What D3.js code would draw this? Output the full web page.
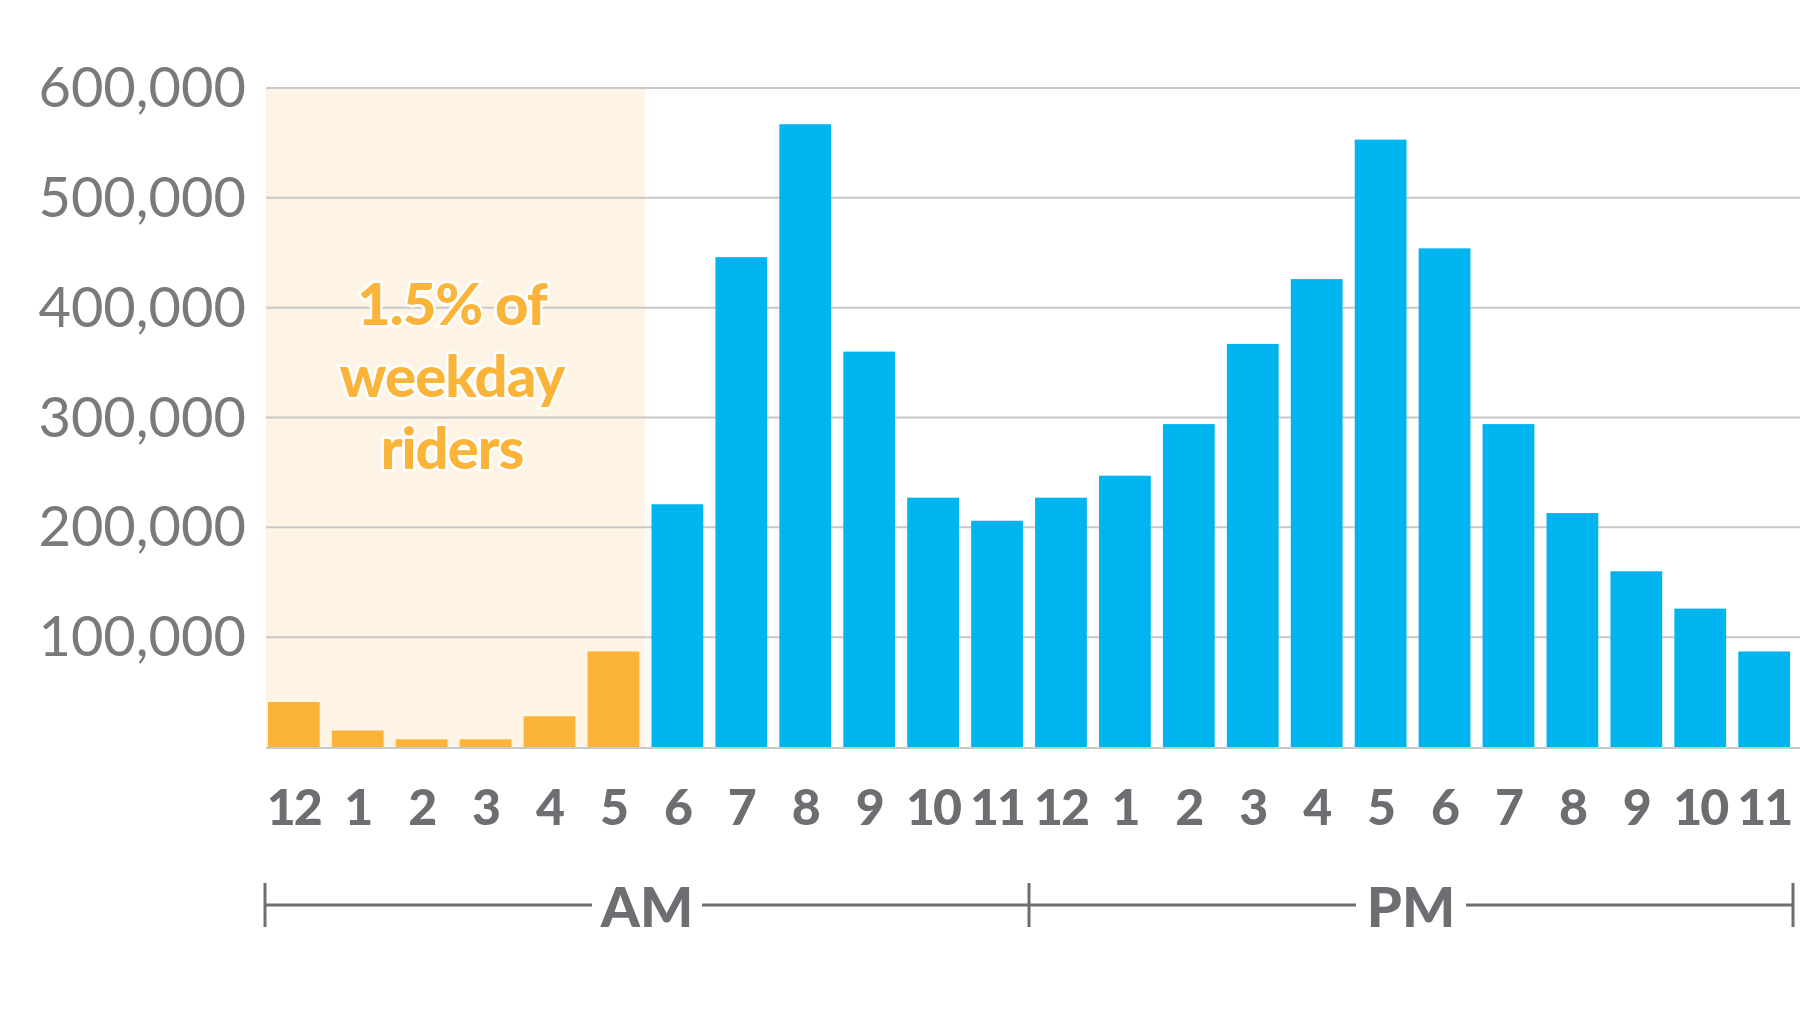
<!DOCTYPE html>
<html><head><meta charset="utf-8">
<script src="https://cdn.jsdelivr.net/npm/d3@7"></script>
<style>body{margin:0;background:#fff}</style>
</head><body><div id="chart"></div>
<script>
// hourly weekday riders
var hours = ["12","1","2","3","4","5","6","7","8","9","10","11","12","1","2","3","4","5","6","7","8","9","10","11"]
var riders = [41000,15000,7000,7000,28000,87000,221000,446000,567000,360000,227000,206000,227000,247000,294000,367000,426000,553000,454000,294000,213000,160000,126000,87000]
var yTicks = [100000,200000,300000,400000,500000,600000]
var nightCount = 6

var W = 1800, H = 1017
var svg = d3.select("#chart").append("svg").attr("width", W).attr("height", H)

var x = d3.scaleBand().domain(d3.range(hours.length)).range([266, 1792]).paddingInner(0.19).paddingOuter(0.03)
var y = d3.scaleLinear().domain([0, 600000]).range([747, 88])

// night shading
svg.append("rect").attr("x", 266).attr("y", y(600000))
  .attr("width", x(nightCount) - 266 - x.step()*x.paddingInner()/2).attr("height", y(0) - y(600000))
  .style("fill", "#fdf4e5")

// grid
svg.selectAll(".grid").data(yTicks).enter().append("line")
  .attr("x1", 266).attr("x2", W).attr("y1", d => y(d)).attr("y2", d => y(d))
  .style("stroke", "#c8c8c8").style("stroke-width", 2)
svg.selectAll(".ylab").data(yTicks).enter().append("text")
  .attr("x", 246).attr("y", d => y(d) + 19).attr("text-anchor", "end")
  .style("font-family", "Lato, sans-serif").style("font-size", "56px").style("fill", "#7a7a7a")
  .text(d => d3.format(",")(d))

svg.selectAll(".bar").data(riders).enter().append("rect")
  .attr("x", (d, i) => x(i)).attr("width", x.bandwidth())
  .attr("y", d => y(d)).attr("height", d => y(0) - y(d))
  .style("fill", (d, i) => i < nightCount ? "#fbb43a" : "#00b5ef")

svg.append("line").attr("x1", 266).attr("x2", W).attr("y1", y(0)+1).attr("y2", y(0)+1)
  .style("stroke", "#c8c8c8").style("stroke-width", 2)

svg.selectAll(".xlab").data(hours).enter().append("text")
  .attr("x", (d, i) => x(i) + x.bandwidth()/2).attr("y", 825).attr("text-anchor", "middle")
  .style("font-family", "Lato, sans-serif").style("font-weight", "900").style("font-size", "50px")
  .style("letter-spacing", "-2px").style("fill", "#6d6e71").text(d => d)

// annotation
var note = ["1.5% of", "weekday", "riders"]
svg.selectAll(".note").data(note).enter().append("text")
  .attr("x", 452).attr("y", (d, i) => 325 + i*72).attr("text-anchor", "middle")
  .style("font-family", "Lato, sans-serif").style("font-weight", "900").style("font-size", "58px")
  .style("letter-spacing", "-1px")
  .style("fill", "#fbb43a").style("stroke", "#fff").style("stroke-width", 5)
  .style("paint-order", "stroke").text(d => d)

// AM / PM brackets
var by = 905
var groups = [{label: "AM", x0: 265, x1: 1029}, {label: "PM", x0: 1029, x1: 1793}]
groups.forEach(function(g){
  var mid = (g.x0 + g.x1)/2
  svg.append("line").attr("x1", g.x0).attr("x2", mid - 55).attr("y1", by).attr("y2", by).style("stroke", "#6d6e71").style("stroke-width", 3)
  svg.append("line").attr("x1", mid + 55).attr("x2", g.x1).attr("y1", by).attr("y2", by).style("stroke", "#6d6e71").style("stroke-width", 3)
  svg.append("text").attr("x", mid).attr("y", by + 22).attr("text-anchor", "middle")
    .style("font-family", "Lato, sans-serif").style("font-weight", "900").style("font-size", "56px")
    .style("fill", "#6d6e71").text(g.label)
})
;[265, 1029, 1793].forEach(function(t){
  svg.append("line").attr("x1", t).attr("x2", t).attr("y1", by - 22).attr("y2", by + 22).style("stroke", "#6d6e71").style("stroke-width", 3)
})
</script></body></html>
